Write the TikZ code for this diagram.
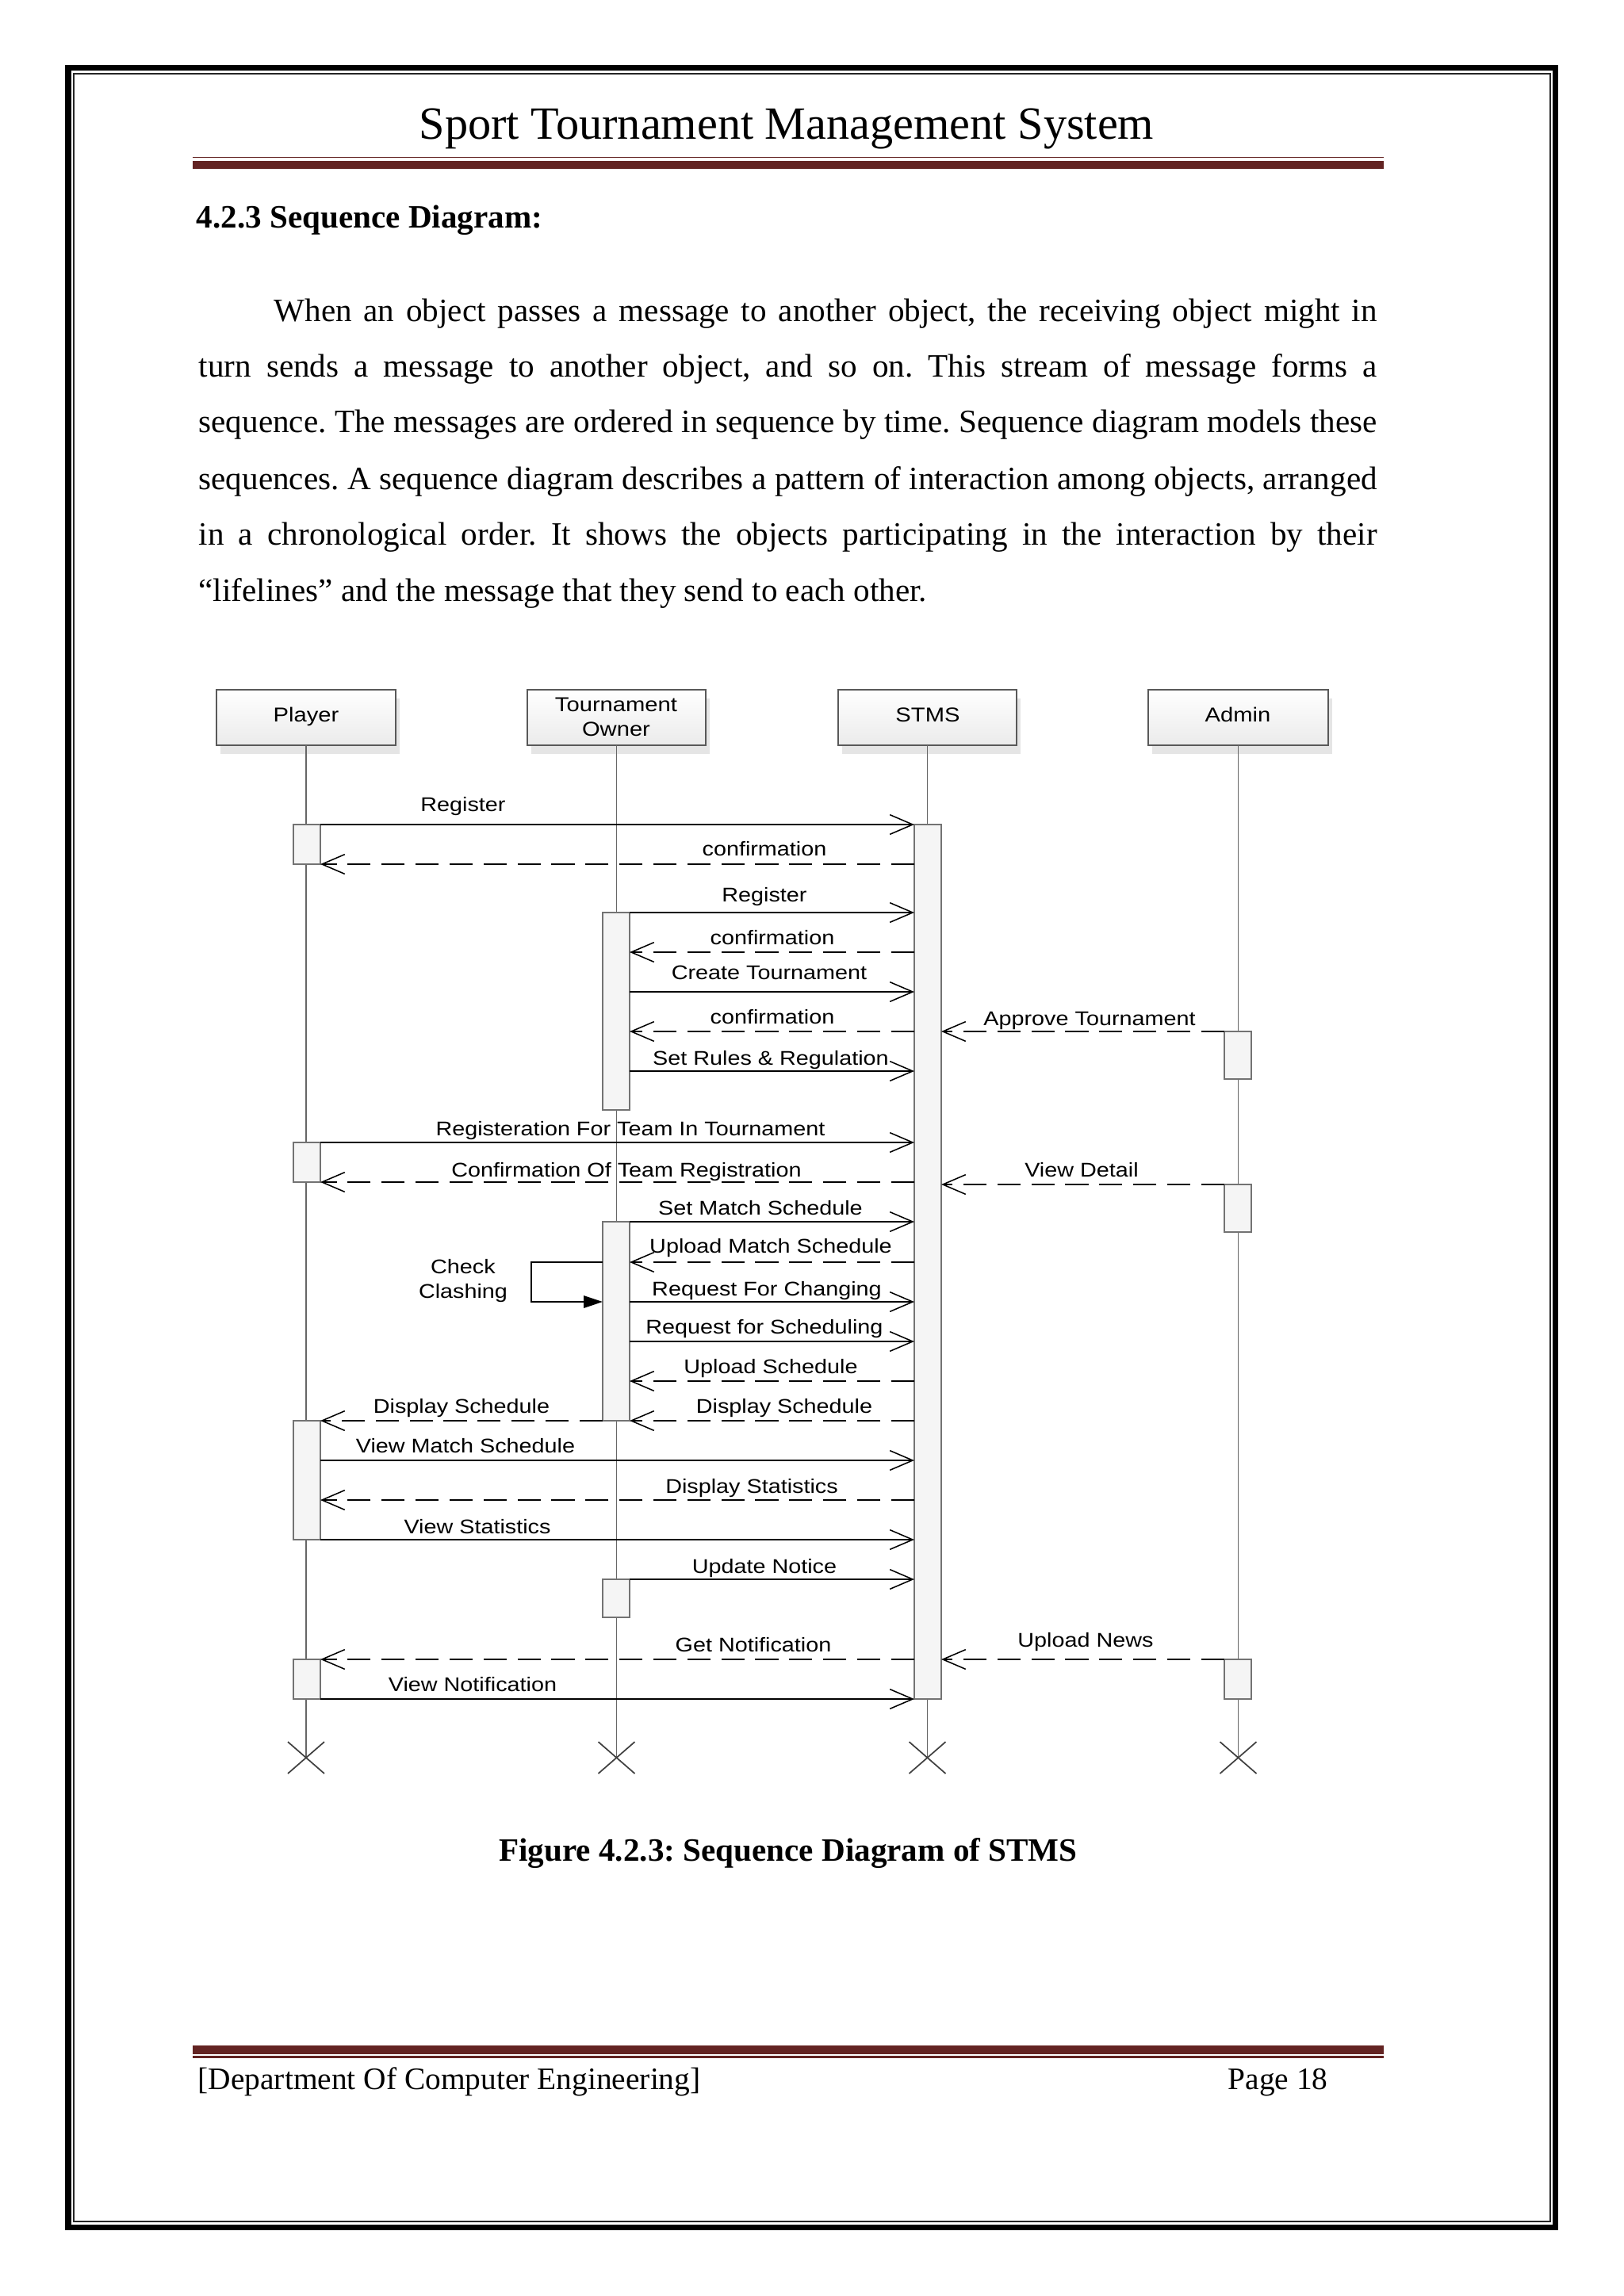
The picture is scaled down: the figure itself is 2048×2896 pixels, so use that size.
\documentclass[tikz,border=0pt]{standalone}
\usepackage{fontspec}
\setmainfont{Liberation Serif}
\newfontfamily\diagfont[FakeStretch=1.15]{Liberation Sans}
\usetikzlibrary{arrows.meta,fit,shadows}
\newlength\U \setlength\U{0.29175pt}
\definecolor{rulered}{HTML}{632423}
\frenchspacing
\begin{document}
\begin{tikzpicture}[x=0.29175pt,y=-0.29175pt,
  body/.style={anchor=base west, inner sep=0pt, font=\fontsize{12}{14}\selectfont},
  head/.style={draw=black!65, line width=0.6pt, top color=white, bottom color=black!8, inner sep=0pt, outer sep=0pt,
    drop shadow={shadow xshift=1.5pt, shadow yshift=-3.2pt, fill=black!10, opacity=1}},
  hdtxt/.style={anchor=base, inner sep=0pt, font=\diagfont\fontsize{7.4}{9}\selectfont},
  lbl/.style={anchor=base, inner sep=0pt, font=\diagfont\fontsize{7.3}{9}\selectfont},
  act/.style={draw=black!55, line width=0.5pt, fill=black!4, inner sep=0pt, outer sep=0pt},
  life/.style={draw=black!60, line width=0.45pt},
  msg/.style={draw=black, line width=0.6pt, -{Straight Barb[length=8.4pt,width=7.2pt,line width=0.45pt]}},
  ret/.style={msg, dash pattern=on 8.5pt off 4pt},
  loopar/.style={draw=black, line width=0.6pt, -{Triangle[length=7pt,width=4.5pt]}},
  xmark/.style={draw=black!75, line width=0.5pt}
]
\useasboundingbox (0,0) rectangle (2048,2896);
\fill[white] (0,0) rectangle (2048,2896);
% page border
\draw[line width=2.19pt] (86,85.5) rectangle (1961.5,2809.5);
\draw[black!85, line width=0.58pt] (93,93) rectangle (1954.5,2802);
% header
\node[anchor=base, inner sep=0pt, font=\fontsize{17}{20}\selectfont] (title) at (992,175) {Sport Tournament Management System};
\draw[rulered, line width=0.5pt] (243,198.5) -- (1745,198.5);
\draw[rulered, line width=3.1pt] (243,208) -- (1745,208);
% section heading and paragraph
\node[anchor=base west, inner sep=0pt, font=\bfseries\fontsize{12}{14}\selectfont] (sec) at (247,287) {4.2.3 Sequence Diagram:};
\node[body] (p1) at (345,405) {\makebox[1391\U][s]{When an object passes a message to another object, the receiving object might in}};
\node[body] (p2) at (250,475) {\makebox[1486\U][s]{turn sends a message to another object, and so on. This stream of message forms a}};
\node[body] (p3) at (250,545) {\makebox[1486\U][s]{sequence. The messages are ordered in sequence by time. Sequence diagram models these}};
\node[body] (p4) at (250,617) {\makebox[1486\U][s]{sequences. A sequence diagram describes a pattern of interaction among objects, arranged}};
\node[body] (p5) at (250,687) {\makebox[1486\U][s]{in a chronological order. It shows the objects participating in the interaction by their}};
\node[body] (p6) at (250,758) {“lifelines” and the message that they send to each other.};
% lifeline heads
\node[head, fit={(273,870)(499,940)}] (player) {};
\node[head, fit={(665,870)(890,940)}] (owner) {};
\node[head, fit={(1057,870)(1282,940)}] (stms) {};
\node[head, fit={(1448,870)(1675,940)}] (admin) {};
\node[hdtxt] (tplayer) at (386,910) {Player};
\node[hdtxt] (towner1) at (777,897) {Tournament};
\node[hdtxt] (towner2) at (777,928) {Owner};
\node[hdtxt] (tstms) at (1170,910) {STMS};
\node[hdtxt] (tadmin) at (1561,910) {Admin};
% lifelines
\coordinate (endrow) at (0,2217);
\draw[life] (player.south) -- (player.south |- endrow) coordinate (pend);
\draw[life] (owner.south) -- (owner.south |- endrow) coordinate (oend);
\draw[life] (stms.south) -- (stms.south |- endrow) coordinate (send);
\draw[life] (admin.south) -- (admin.south |- endrow) coordinate (aend);
\foreach \e in {pend,oend,send,aend}{
  \draw[xmark] ([shift={(-23,-20)}]\e) -- ([shift={(23,20)}]\e);
  \draw[xmark] ([shift={(-23,20)}]\e) -- ([shift={(23,-20)}]\e);
}
% activations
\node[act, fit={(1153,1040)(1187,2143)}] (sa) {};
\node[act, fit={(370,1040)(404,1090)}] (pa1) {};
\node[act, fit={(370,1441)(404,1491)}] (pa2) {};
\node[act, fit={(370,1792)(404,1942)}] (pa3) {};
\node[act, fit={(370,2093)(404,2143)}] (pa4) {};
\node[act, fit={(760,1151)(794,1400)}] (ta1) {};
\node[act, fit={(760,1541)(794,1792)}] (ta2) {};
\node[act, fit={(760,1992)(794,2040)}] (ta3) {};
\node[act, fit={(1544,1301)(1578,1361)}] (aa1) {};
\node[act, fit={(1544,1494)(1578,1554)}] (aa2) {};
\node[act, fit={(1544,2093)(1578,2143)}] (aa3) {};
% message rows
\coordinate (m1) at (0,1040);
\coordinate (m2) at (0,1090);
\coordinate (m3) at (0,1151);
\coordinate (m4) at (0,1201);
\coordinate (m5) at (0,1251);
\coordinate (m6) at (0,1301);
\coordinate (m8) at (0,1351);
\coordinate (m9) at (0,1441);
\coordinate (m10) at (0,1491);
\coordinate (m11) at (0,1494);
\coordinate (m12) at (0,1541);
\coordinate (m13) at (0,1592);
\coordinate (m15) at (0,1642);
\coordinate (m16) at (0,1692);
\coordinate (m17) at (0,1742);
\coordinate (m18) at (0,1792);
\coordinate (m20) at (0,1842);
\coordinate (m21) at (0,1892);
\coordinate (m22) at (0,1942);
\coordinate (m23) at (0,1992);
\coordinate (m24) at (0,2093);
\coordinate (m26) at (0,2143);
% messages
\draw[msg] (pa1.east |- m1) -- (sa.west |- m1);
\draw[ret] (sa.west |- m2) -- (pa1.east |- m2);
\draw[msg] (ta1.east |- m3) -- (sa.west |- m3);
\draw[ret] (sa.west |- m4) -- (ta1.east |- m4);
\draw[msg] (ta1.east |- m5) -- (sa.west |- m5);
\draw[ret] (sa.west |- m6) -- (ta1.east |- m6);
\draw[ret] (aa1.west |- m6) -- (sa.east |- m6);
\draw[msg] (ta1.east |- m8) -- (sa.west |- m8);
\draw[msg] (pa2.east |- m9) -- (sa.west |- m9);
\draw[ret] (sa.west |- m10) -- (pa2.east |- m10);
\draw[ret] (aa2.west |- m11) -- (sa.east |- m11);
\draw[msg] (ta2.east |- m12) -- (sa.west |- m12);
\draw[ret] (sa.west |- m13) -- (ta2.east |- m13);
\draw[loopar] (ta2.west |- m13) -- ++(-90,0) |- (ta2.west |- m15);
\draw[msg] (ta2.east |- m15) -- (sa.west |- m15);
\draw[msg] (ta2.east |- m16) -- (sa.west |- m16);
\draw[ret] (sa.west |- m17) -- (ta2.east |- m17);
\draw[ret] (sa.west |- m18) -- (ta2.east |- m18);
\draw[ret] (ta2.west |- m18) -- (pa3.east |- m18);
\draw[msg] (pa3.east |- m20) -- (sa.west |- m20);
\draw[ret] (sa.west |- m21) -- (pa3.east |- m21);
\draw[msg] (pa3.east |- m22) -- (sa.west |- m22);
\draw[msg] (ta3.east |- m23) -- (sa.west |- m23);
\draw[ret] (sa.west |- m24) -- (pa4.east |- m24);
\draw[ret] (aa3.west |- m24) -- (sa.east |- m24);
\draw[msg] (pa4.east |- m26) -- (sa.west |- m26);
% labels
\node[lbl] (l1) at (584,1023) {Register};
\node[lbl] (l2) at (964,1079) {confirmation};
\node[lbl] (l3) at (964,1137) {Register};
\node[lbl] (l4) at (974,1191) {confirmation};
\node[lbl] (l5) at (970,1235) {Create Tournament};
\node[lbl] (l6) at (974,1291) {confirmation};
\node[lbl] (l7) at (1374,1293) {Approve Tournament};
\node[lbl] (l8) at (972,1343) {Set Rules \& Regulation};
\node[lbl] (l9) at (795,1432) {Registeration For Team In Tournament};
\node[lbl] (l10) at (790,1484) {Confirmation Of Team Registration};
\node[lbl] (l11) at (1364,1484) {View Detail};
\node[lbl] (l12) at (959,1532) {Set Match Schedule};
\node[lbl] (l13) at (972,1580) {Upload Match Schedule};
\node[lbl] (l14a) at (584,1606) {Check};
\node[lbl] (l14b) at (584,1637) {Clashing};
\node[lbl] (l15) at (967,1634) {Request For Changing};
\node[lbl] (l16) at (964,1682) {Request for Scheduling};
\node[lbl] (l17) at (972,1732) {Upload Schedule};
\node[lbl] (l18) at (989,1782) {Display Schedule};
\node[lbl] (l19) at (582,1782) {Display Schedule};
\node[lbl] (l20) at (587,1832) {View Match Schedule};
\node[lbl] (l21) at (948,1883) {Display Statistics};
\node[lbl] (l22) at (602,1934) {View Statistics};
\node[lbl] (l23) at (964,1984) {Update Notice};
\node[lbl] (l24) at (950,2083) {Get Notification};
\node[lbl] (l25) at (1369,2077) {Upload News};
\node[lbl] (l26) at (596,2133) {View Notification};
% caption
\node[anchor=base, inner sep=0pt, font=\bfseries\fontsize{12}{14}\selectfont] (cap) at (994,2347) {Figure 4.2.3: Sequence Diagram of STMS};
% footer
\draw[rulered, line width=3.2pt] (243,2585.5) -- (1745,2585.5);
\draw[rulered, line width=0.67pt] (243,2594.5) -- (1745,2594.5);
\node[anchor=base west, inner sep=0pt, font=\fontsize{11.5}{13}\selectfont] (dept) at (249,2635) {[Department Of Computer Engineering]};
\node[anchor=base west, inner sep=0pt, font=\fontsize{11.5}{13}\selectfont] (page) at (1548,2635) {Page 18};
\end{tikzpicture}
\end{document}
